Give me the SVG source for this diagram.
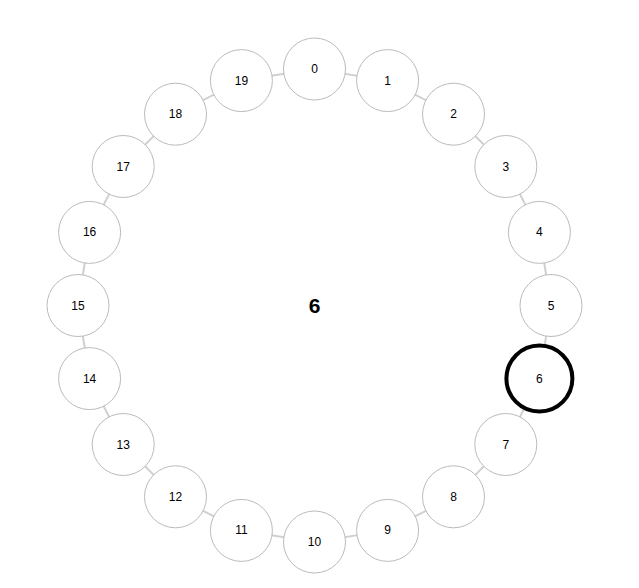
<svg xmlns="http://www.w3.org/2000/svg" width="639" height="588" viewBox="0 0 639 588">
<style>
.e{stroke:#d0d0d0;stroke-width:2;fill:none}
.n circle{fill:#fff;stroke:#bbb;stroke-width:1}
.n text{font-family:"Liberation Sans",Arial,sans-serif;font-size:12px;fill:#000;text-anchor:middle;dominant-baseline:central}
#n6 circle{stroke:#000;stroke-width:4}
</style>
<rect width="639" height="588" fill="#fff"/>
<g id="connectors">
<polygon class="e" points="314.5,69 387.6,80.6 453.5,114.2 505.8,166.5 539.4,232.4 551,305.5 539.4,378.6 505.8,444.5 453.5,496.8 387.6,530.4 314.5,542 241.4,530.4 175.5,496.8 123.2,444.5 89.6,378.6 78,305.5 89.6,232.4 123.2,166.5 175.5,114.2 241.4,80.6"/>
</g>
<g id="n0" class="n"><circle cx="314.5" cy="69" r="31"/><text x="314.5" y="69">0</text></g>
<g id="n1" class="n"><circle cx="387.6" cy="80.6" r="31"/><text x="387.6" y="80.6">1</text></g>
<g id="n2" class="n"><circle cx="453.5" cy="114.2" r="31"/><text x="453.5" y="114.2">2</text></g>
<g id="n3" class="n"><circle cx="505.8" cy="166.5" r="31"/><text x="505.8" y="166.5">3</text></g>
<g id="n4" class="n"><circle cx="539.4" cy="232.4" r="31"/><text x="539.4" y="232.4">4</text></g>
<g id="n5" class="n"><circle cx="551" cy="305.5" r="31"/><text x="551" y="305.5">5</text></g>
<g id="n6" class="n"><circle cx="539.4" cy="378.6" r="33"/><text x="539.4" y="378.6">6</text></g>
<g id="n7" class="n"><circle cx="505.8" cy="444.5" r="31"/><text x="505.8" y="444.5">7</text></g>
<g id="n8" class="n"><circle cx="453.5" cy="496.8" r="31"/><text x="453.5" y="496.8">8</text></g>
<g id="n9" class="n"><circle cx="387.6" cy="530.4" r="31"/><text x="387.6" y="530.4">9</text></g>
<g id="n10" class="n"><circle cx="314.5" cy="542" r="31"/><text x="314.5" y="542">10</text></g>
<g id="n11" class="n"><circle cx="241.4" cy="530.4" r="31"/><text x="241.4" y="530.4">11</text></g>
<g id="n12" class="n"><circle cx="175.5" cy="496.8" r="31"/><text x="175.5" y="496.8">12</text></g>
<g id="n13" class="n"><circle cx="123.2" cy="444.5" r="31"/><text x="123.2" y="444.5">13</text></g>
<g id="n14" class="n"><circle cx="89.6" cy="378.6" r="31"/><text x="89.6" y="378.6">14</text></g>
<g id="n15" class="n"><circle cx="78" cy="305.5" r="31"/><text x="78" y="305.5">15</text></g>
<g id="n16" class="n"><circle cx="89.6" cy="232.4" r="31"/><text x="89.6" y="232.4">16</text></g>
<g id="n17" class="n"><circle cx="123.2" cy="166.5" r="31"/><text x="123.2" y="166.5">17</text></g>
<g id="n18" class="n"><circle cx="175.5" cy="114.2" r="31"/><text x="175.5" y="114.2">18</text></g>
<g id="n19" class="n"><circle cx="241.4" cy="80.6" r="31"/><text x="241.4" y="80.6">19</text></g>
<text x="314.5" y="305.5" font-family="Liberation Sans,Arial,sans-serif" font-size="21" font-weight="bold" text-anchor="middle" dominant-baseline="central">6</text>
</svg>
